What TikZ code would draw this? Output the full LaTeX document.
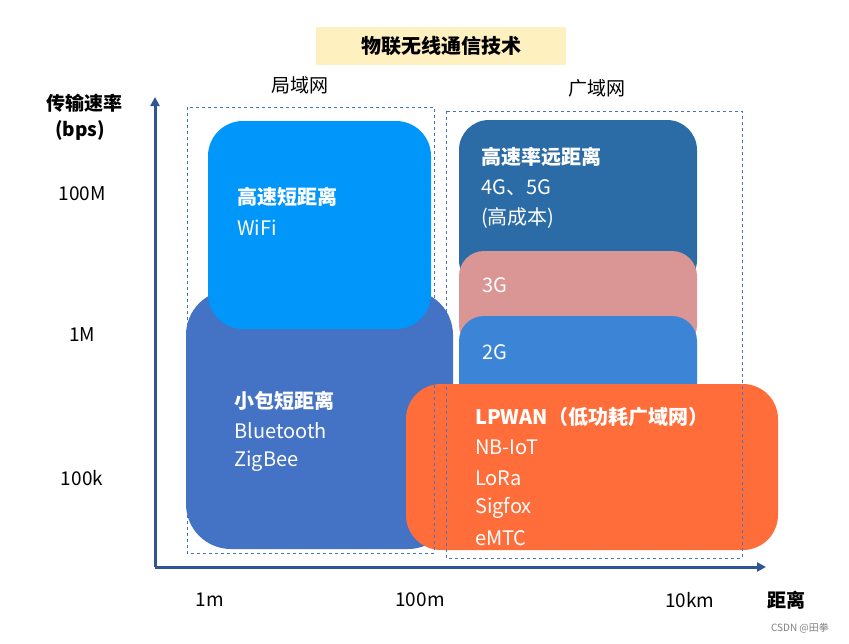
\documentclass[tikz,border=0pt]{standalone}
\usepackage{fontspec}
\setmainfont{Noto Sans CJK SC}
\usetikzlibrary{arrows.meta}
\definecolor{axisc}{HTML}{2F5597}
\definecolor{dashc}{HTML}{4472C4}
\definecolor{smallc}{HTML}{4472C4}
\definecolor{wific}{HTML}{0096FA}
\definecolor{darkc}{HTML}{2B6CA6}
\definecolor{pinkc}{HTML}{D99694}
\definecolor{twogc}{HTML}{3C85D6}
\definecolor{orangec}{HTML}{FF6E3A}
\definecolor{titlec}{HTML}{FFF0C0}
\begin{document}
\begin{tikzpicture}[x=1pt,y=-1pt,
  blk/.style={rounded corners=#1,draw=none},
  wt/.style={anchor=west,text=white,font=\fontsize{20}{24}\selectfont,inner sep=0},
  wtb/.style={wt,font=\fontsize{20}{24}\selectfont\bfseries},
  lab/.style={font=\fontsize{19}{23}\selectfont,inner sep=0},
  dbox/.style={draw=dashc,dashed,line width=0.8pt}]
\useasboundingbox (0,0) rectangle (849,643);
\node[fill=titlec,minimum width=250pt,minimum height=38pt,font=\fontsize{20}{24}\selectfont\bfseries] (title) at (441,46) {物联无线通信技术};
\coordinate (o) at (155,567);
\coordinate (ytop) at (155,97);
\coordinate (xend) at (766,567);
\draw[axisc,line width=3pt,-{Triangle[length=9pt,width=9pt]}] (o) -- (ytop);
\draw[axisc,line width=3pt,-{Triangle[length=9pt,width=9pt]}] (o) -- (xend);
\node[lab,font=\fontsize{19}{23}\selectfont\bfseries] (yl1) at (84,103) {传输速率};
\node[lab,font=\fontsize{19}{23}\selectfont\bfseries] (yl2) at (80,130) {(bps)};
\node[lab] (t1) at (82,194) {100M};
\node[lab] (t2) at (82,335) {1M};
\node[lab] (t3) at (82,478) {100k};
\node[lab] (x1) at (210,600) {1m};
\node[lab] (x2) at (420,600) {100m};
\node[lab] (x3) at (690,600) {10km};
\node[lab,font=\fontsize{19}{23}\selectfont\bfseries] (xl) at (786,600) {距离};
\node[lab] (lan) at (300,85) {局域网};
\node[lab] (wan) at (597,88) {广域网};
% blocks
\fill[smallc,rounded corners=45pt] (186,290) rectangle (453,549);
\fill[wific,rounded corners=35pt] (208,121) rectangle (431,329);
\fill[darkc,rounded corners=30pt] (459,120) rectangle (697,290);
\fill[pinkc,rounded corners=25pt] (459,251) rectangle (697,350);
\fill[twogc,rounded corners=25pt] (459,316) rectangle (697,420);
\fill[orangec,rounded corners=35pt] (406,384) rectangle (778,550);
\node[wtb] (s1) at (234,401) {小包短距离};
\node[wt] (s2) at (234,431) {Bluetooth};
\node[wt] (s3) at (234,461) {ZigBee};
\node[wtb] (w1) at (237,197) {高速短距离};
\node[wt] (w2) at (237,228) {WiFi};
\node[wtb] (d1) at (481,157) {高速率远距离};
\node[wt] (d2) at (481,188) {4G、5G};
\node[wt] (d3) at (481,218) {(高成本)};
\node[wt] (g3) at (482,285) {3G};
\node[wt] (g2) at (482,352) {2G};
\node[wtb] (l1) at (475,417) {LPWAN（低功耗广域网）};
\node[wt] (l2) at (475,447) {NB-IoT};
\node[wt] (l3) at (475,478) {LoRa};
\node[wt] (l4) at (475,508) {Sigfox};
\node[wt] (l5) at (475,538) {eMTC};
\draw[dbox] (187,107) rectangle (434,553);
\draw[dbox] (446,111) rectangle (742,558);
\node[text=gray,font=\fontsize{10}{12}\selectfont,inner sep=0] (wm) at (800,628) {CSDN @田拳};
\end{tikzpicture}
\end{document}
